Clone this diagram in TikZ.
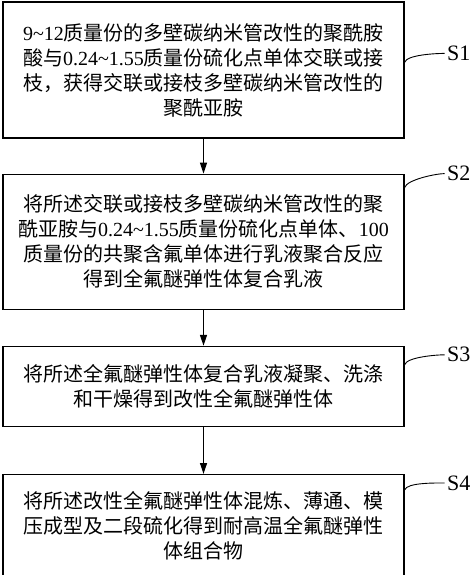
\documentclass[tikz,border=0pt]{standalone}
\usepackage{fontspec}
\setmainfont{Liberation Serif}
\newfontfamily\cjk{Noto Sans CJK SC}
\usetikzlibrary{arrows.meta,positioning}
\newcommand\numtxt[1]{{\rmfamily #1}}

\begin{document}
\begin{tikzpicture}[x=1pt,y=1pt,>={Triangle[length=11pt,width=7pt]},
  line width=1.2pt,node distance=35pt,
  stepbox/.style={rectangle,draw,text width=390pt,inner xsep=5.5pt,inner ysep=0pt,align=center,font=\cjk\fontsize{20}{25}\selectfont},
  steplabel/.style={anchor=west,inner sep=2pt,font=\fontsize{22}{22}\selectfont}]

 \useasboundingbox (0,0) rectangle (474,-575);

 \node[stepbox,minimum height=136pt] (s1) at (203.5,-70) {\numtxt{9\textasciitilde12}质量份的多壁碳纳米管改性的聚酰胺\\酸与\numtxt{0.24\textasciitilde1.55}质量份硫化点单体交联或接\\枝，获得交联或接枝多壁碳纳米管改性的\\聚酰亚胺};
 \node[stepbox,minimum height=135pt] (s2) [below=35pt of s1] {将所述交联或接枝多壁碳纳米管改性的聚\\酰亚胺与\numtxt{0.24\textasciitilde1.55}质量份硫化点单体、\numtxt{100}\\质量份的共聚含氟单体进行乳液聚合反应\\得到全氟醚弹性体复合乳液};
 \node[stepbox,minimum height=80pt] (s3) [below=36pt of s2] {将所述全氟醚弹性体复合乳液凝聚、洗涤\\和干燥得到改性全氟醚弹性体};
 \node[stepbox,minimum height=102pt] (s4) [below=47pt of s3] {将所述改性全氟醚弹性体混炼、薄通、模\\压成型及二段硫化得到耐高温全氟醚弹性\\体组合物};

 \coordinate (c1) at ([yshift=-61pt]s1.north east);
 \coordinate (c2) at ([yshift=-14pt]s2.north east);
 \coordinate (c3) at ([yshift=-19pt]s3.north east);
 \coordinate (c4) at ([yshift=-16pt]s4.north east);

 \node[steplabel] (l1) at ([xshift=40pt,yshift=9pt]c1) {S1};
 \node[steplabel] (l2) at ([xshift=40pt,yshift=14pt]c2) {S2};
 \node[steplabel] (l3) at ([xshift=40pt,yshift=10pt]c3) {S3};
 \node[steplabel] (l4) at ([xshift=40pt,yshift=7pt]c4) {S4};

 \path[->]
    (s1) edge (s2)
    (s2) edge (s3)
    (s3) edge (s4);

 \path[line width=0.9pt,out=75,in=180,looseness=0.5]
    (c1) edge (l1.west)
    (c2) edge (l2.west)
    (c3) edge (l3.west)
    (c4) edge (l4.west);

\end{tikzpicture}
\end{document}
